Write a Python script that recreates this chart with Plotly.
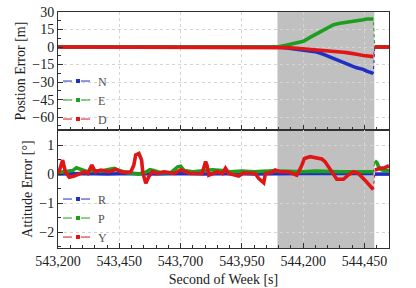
import plotly.graph_objects as go
from plotly.subplots import make_subplots

# ---------------- data ----------------
# Position error [m] (top panel); None marks the data gap after the outage
t_pos = [543200, 543300, 543400, 543500, 543600, 543700, 543800, 543900, 544000,
         544025, 544050, 544100, 544134, 544161, 544174, 544188, 544201, 544228,
         544249, 544256, 544283, 544317, 544324, 544350, 544364, 544384, 544391,
         544405, 544418, 544445, 544459, 544486, 544489, 544492, 544550]
pos_N = [0, 0, 0, 0, 0, 0, 0, 0, 0,
         0, 0, 0, -0.8, -1.4, -2.0, -2.6, -3.0, -3.6,
         -4.0, -4.3, -6.3, -9.2, -9.7, -12.0, -13.4, -15.6, -16.2,
         -16.8, -17.8, -19.1, -20.6, -22.5, None, 0, 0]
pos_E = [0, 0, 0, 0, 0, 0, 0, 0, 0,
         0, 0, 0.3, 1.7, 3.0, 3.7, 4.3, 4.9, 8.3,
         10.8, 11.7, 15.1, 18.9, 19.2, 20.3, 20.7, 21.1, 21.5,
         22.0, 22.5, 23.4, 24.0, 24.0, None, 0, 0]
pos_D = [0, 0, 0, 0, 0, 0, 0, -0.3, 0,
         -0.5, 0, 0, -0.5, -0.8, -1.0, -1.1, -1.3, -1.6,
         -1.9, -2.0, -2.5, -3.2, -3.4, -4.0, -4.4, -5.0, -5.4,
         -5.8, -6.2, -7.2, -7.7, -8.2, None, 0, 0]

# Attitude error [deg] (bottom panel)
t_R = [543200, 543300, 543400, 543500, 543600, 543700, 543800, 543900, 544000,
       544100, 544200, 544300, 544400, 544486, 544489, 544492, 544550]
att_R = [0.0, 0.02, 0.0, 0.02, 0.0, 0.02, 0.0, 0.02, 0.0,
         0.02, 0.02, 0.03, 0.02, 0.02, None, 0.0, 0.0]

t_P = [543200, 543230, 543260, 543275, 543290, 543320, 543345, 543375, 543400,
       543430, 543450, 543480, 543510, 543530, 543555, 543575, 543590, 543620,
       543660, 543688, 543700, 543715, 543750, 543790, 543830, 543870, 543900,
       543950, 544000, 544050, 544080, 544110, 544150, 544200, 544250, 544300,
       544350, 544400, 544450, 544486, 544489, 544492, 544500, 544512, 544530,
       544550]
att_P = [0.05, 0.08, 0.12, 0.22, 0.18, 0.08, 0.12, 0.1, 0.15,
         0.2, 0.12, 0.05, 0.02, 0.0, 0.05, 0.15, 0.12, 0.05,
         0.05, 0.25, 0.27, 0.12, 0.08, 0.12, 0.15, 0.12, 0.08,
         0.1, 0.08, 0.1, 0.12, 0.1, 0.08, 0.08, 0.1, 0.08,
         0.08, 0.08, 0.08, 0.08, None, 0.45, 0.4, 0.18, 0.12,
         0.12]

t_Y = [543202, 543219, 543230, 543246, 543266, 543287, 543307, 543321, 543338,
       543352, 543375, 543409, 543436, 543463, 543497, 543509, 543517, 543530,
       543541, 543546, 543558, 543571, 543585, 543605, 543632, 543673, 543700,
       543741, 543788, 543802, 543808, 543815, 543830, 543849, 543871, 543883,
       543896, 543937, 543957, 544005, 544018, 544039, 544046, 544073, 544086,
       544106, 544140, 544161, 544174, 544192, 544205, 544228, 544249, 544276,
       544289, 544317, 544337, 544364, 544384, 544405, 544425, 544452, 544486,
       544489, 544493, 544513, 544533, 544550]
att_Y = [0.02, 0.48, 0.08, -0.11, -0.07, 0.02, 0.08, 0.02, 0.31,
         0.08, 0.14, 0.08, 0.16, 0.06, 0.08, 0.3, 0.66, 0.71,
         0.48, 0.05, -0.32, -0.08, 0.08, 0.02, 0.08, 0.02, 0.14,
         0.02, 0.02, 0.43, 0.3, -0.04, 0.02, 0.08, 0.02, 0.2,
         0.02, -0.07, 0.04, 0.02, -0.15, -0.3, 0.02, 0.06, 0.14,
         0.08, 0.08, 0.02, -0.04, 0.25, 0.54, 0.6, 0.57, 0.52,
         0.43, 0.08, -0.18, -0.18, -0.03, 0.08, 0.02, -0.21, -0.53,
         None, 0.14, 0.2, 0.22, 0.29]

outage = [544095, 544490]

pos_names = ["N", "E", "D"]
att_names = ["R", "P", "Y"]
colors = ["#1f2fc4", "#1e9e1e", "#e01616"]

FONT = "Liberation Serif"

# ---------------- figure ----------------
fig = make_subplots(rows=2, cols=1, shared_xaxes=True, vertical_spacing=0)

def add_series(t, vals, name, color, row, legend):
    # thin dotted connector (visible only across gaps)
    fig.add_trace(go.Scatter(x=t, y=vals, mode="lines", connectgaps=True,
                             line=dict(color=color, width=1, dash="dot"),
                             showlegend=False, hoverinfo="skip"), row=row, col=1)
    # thick data line
    fig.add_trace(go.Scatter(x=t, y=vals, mode="lines", connectgaps=False,
                             line=dict(color=color, width=3.6),
                             showlegend=False), row=row, col=1)
    # legend entry
    fig.add_trace(go.Scatter(x=[None], y=[None], mode="lines+markers", name=name,
                             line=dict(color=color, width=1, dash="dash"),
                             marker=dict(color=color, symbol="square", size=4),
                             legend=legend), row=row, col=1)

for vals, n, c in zip([pos_N, pos_E, pos_D], pos_names, colors):
    add_series(t_pos, vals, n, c, 1, "legend")
for tt, vals, n, c in zip([t_R, t_P, t_Y], [att_R, att_P, att_Y], att_names, colors):
    add_series(tt, vals, n, c, 2, "legend2")

for yr in ["y", "y2"]:
    fig.add_shape(type="rect", xref="x", yref=yr + " domain", x0=outage[0], x1=outage[1],
                  y0=0, y1=1, fillcolor="#c0c0c0", line=dict(width=0), layer="below")

axis_common = dict(showline=True, linecolor="#303030", linewidth=1, mirror=True,
                   ticks="inside", ticklen=5, tickcolor="#303030",
                   showgrid=True, gridcolor="#d4d4d4", griddash="dot", gridwidth=1,
                   zeroline=False, automargin=False,
                   tickfont=dict(family=FONT, size=14, color="#202020"))

fig.update_xaxes(range=[543200, 544550], tick0=543200, dtick=250, tickformat=",d",
                 minor=dict(dtick=50, tick0=543200, ticks="inside", ticklen=3,
                            tickcolor="#303030", showgrid=False),
                 **axis_common)
fig.update_xaxes(showticklabels=False, row=1, col=1)
fig.update_xaxes(title=dict(text="Second of Week [s]", standoff=6,
                            font=dict(family=FONT, size=14, color="#202020")),
                 row=2, col=1)

fig.update_yaxes(range=[-71, 30], tick0=-60, dtick=15,
                 minor=dict(dtick=7.5, ticks="inside", ticklen=3, tickcolor="#303030",
                            showgrid=False),
                 title=dict(text="Postion Error [m]", standoff=3,
                            font=dict(family=FONT, size=14, color="#202020")),
                 row=1, col=1, **axis_common)
fig.update_yaxes(range=[-2.55, 1.52], tick0=0, dtick=1,
                 minor=dict(dtick=0.5, ticks="inside", ticklen=3, tickcolor="#303030",
                            showgrid=False),
                 title=dict(text="Attitude Error [°]", standoff=3,
                            font=dict(family=FONT, size=14, color="#202020")),
                 row=2, col=1, **axis_common)

legend_common = dict(x=0.0, xanchor="left", yanchor="bottom", bgcolor="rgba(0,0,0,0)",
                     font=dict(family=FONT, size=12, color="#505050"),
                     tracegroupgap=0, itemwidth=30)
fig.update_layout(
    width=416, height=288,
    margin=dict(l=58, r=27, t=12, b=40, autoexpand=False),
    paper_bgcolor="white", plot_bgcolor="white",
    legend=dict(y=0.485, **legend_common),
    legend2=dict(y=-0.015, **legend_common),
    font=dict(family=FONT),
)

fig.write_html("out.html")
